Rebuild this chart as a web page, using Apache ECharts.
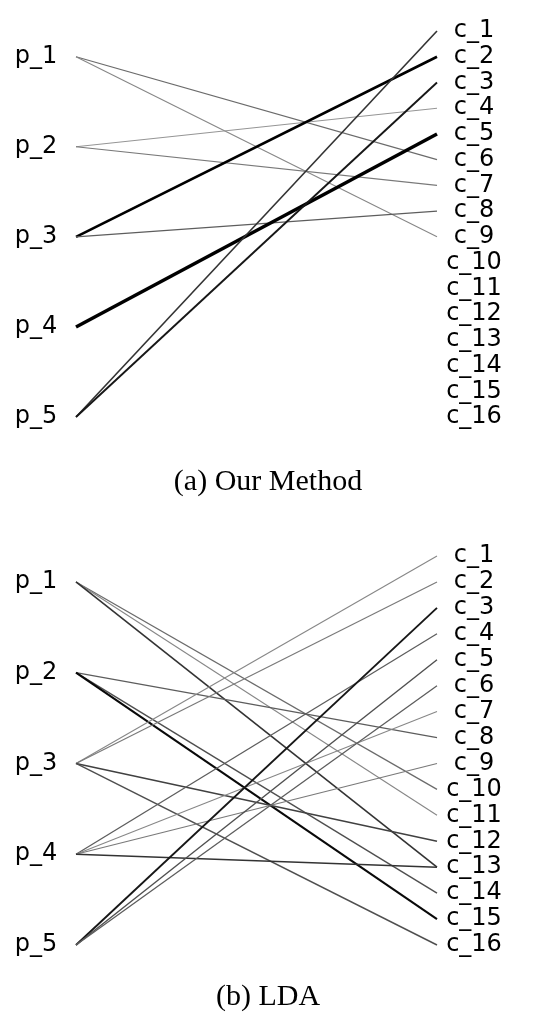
<!DOCTYPE html>
<html>
<head>
<meta charset="utf-8">
<script src="https://cdn.jsdelivr.net/npm/echarts@6/dist/echarts.min.js"></script>
<style>
html,body{margin:0;padding:0;background:#fff;}
#chart{width:536px;height:1016px;}
</style>
</head>
<body>
<div id="chart"></div>
<script>
// ---- data ----
var leftNodes = ['p_1', 'p_2', 'p_3', 'p_4', 'p_5'];
var rightNodes = ['c_1','c_2','c_3','c_4','c_5','c_6','c_7','c_8','c_9','c_10','c_11','c_12','c_13','c_14','c_15','c_16'];
// edges: [left node number, right node number, weight]
var edgesOurMethod = [
  [1, 6, 0.30], [1, 9, 0.20],
  [2, 4, 0.15], [2, 7, 0.25],
  [3, 2, 0.80], [3, 8, 0.35],
  [4, 5, 1.00],
  [5, 1, 0.50], [5, 3, 0.60]
];
var edgesLDA = [
  [1, 10, 0.30], [1, 11, 0.20], [1, 13, 0.50],
  [2, 8, 0.35], [2, 14, 0.40], [2, 15, 0.65],
  [3, 1, 0.20], [3, 2, 0.25], [3, 12, 0.45], [3, 16, 0.40],
  [4, 4, 0.35], [4, 7, 0.20], [4, 9, 0.25], [4, 13, 0.50],
  [5, 3, 0.60], [5, 5, 0.40], [5, 6, 0.35]
];
var captions = ['(a) Our Method', '(b) LDA'];

// ---- styling helpers ----
function edgeStyle(w) {
  var dark = Math.min(1, 0.25 + 1.1 * w);
  var g = Math.round(255 * (1 - dark));
  return { width: 1.0 + 2.5 * w * w, color: 'rgb(' + g + ',' + g + ',' + g + ')', opacity: 1 };
}
function toData(edges) {
  return edges.map(function (e) {
    return { value: [e[0], rightNodes[e[1] - 1]], lineStyle: edgeStyle(e[2]) };
  });
}
// left nodes are spaced 3.5 right-node steps apart, p_1 level with c_2
var step = 3.5;
var leftMin = 1 - 1 / step;
var leftMax = 1 + (rightNodes.length - 2) / step;

var labelFont = { fontFamily: 'DejaVu Sans', fontSize: 24, color: '#000' };

function axes(pi) {
  return [
    {
      dim: 0, parallelIndex: pi, type: 'value', min: leftMin, max: leftMax, inverse: true,
      name: '', axisLine: { show: false }, axisTick: { show: false }, splitLine: { show: false },
      axisLabel: Object.assign({
        customValues: leftNodes.map(function (n, i) { return i + 1; }),
        formatter: function (v) { return leftNodes[Math.round(v) - 1] || ''; },
        margin: -40, align: 'center'
      }, labelFont)
    },
    {
      dim: 1, parallelIndex: pi, type: 'category', data: rightNodes, boundaryGap: false, inverse: true,
      name: '', axisLine: { show: false }, axisTick: { show: false }, splitLine: { show: false },
      axisLabel: Object.assign({ interval: 0, margin: 37, align: 'center' }, labelFont)
    }
  ];
}

var chart = echarts.init(document.getElementById('chart'), null, { renderer: 'canvas' });
chart.setOption({
  backgroundColor: '#fff',
  animation: false,
  title: [
    { text: captions[0], left: 'center', top: 462,
      textStyle: { fontFamily: 'Liberation Serif', fontSize: 30, fontWeight: 'normal', color: '#000' } },
    { text: captions[1], left: 'center', top: 977,
      textStyle: { fontFamily: 'Liberation Serif', fontSize: 30, fontWeight: 'normal', color: '#000' } }
  ],
  parallel: [
    { left: 76, right: 99, top: 31, height: 386 },
    { left: 76, right: 99, top: 556, height: 389 }
  ],
  parallelAxis: axes(0).concat(axes(1)).map(function (a, i) { a.dim = i % 2; return a; }),
  series: [
    { type: 'parallel', parallelIndex: 0, smooth: false, lineStyle: { opacity: 1 },
      emphasis: { disabled: true }, data: toData(edgesOurMethod) },
    { type: 'parallel', parallelIndex: 1, smooth: false, lineStyle: { opacity: 1 },
      emphasis: { disabled: true }, data: toData(edgesLDA) }
  ]
});
</script>
</body>
</html>
